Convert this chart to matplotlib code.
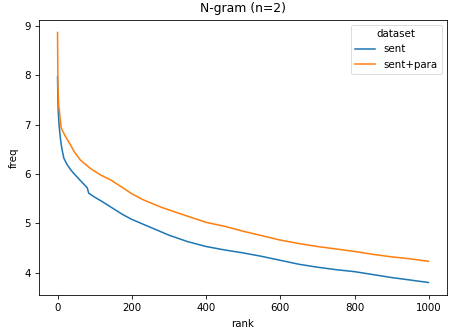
import matplotlib
matplotlib.use("Agg")
import matplotlib.pyplot as plt

ranks_sent = [0, 1, 2, 4, 8, 12, 17, 25, 35, 44, 60, 80, 84, 100, 116, 150, 175, 200,
              250, 300, 350, 400, 450, 500, 550, 600, 650, 700, 750, 800, 850, 900, 950, 999]
freq_sent = [7.97, 7.5, 7.25, 7.0, 6.7, 6.5, 6.32, 6.2, 6.09, 6.01, 5.88, 5.72, 5.61, 5.53, 5.46,
             5.30, 5.18, 5.08, 4.92, 4.76, 4.63, 4.53, 4.46, 4.40, 4.33, 4.25, 4.17, 4.11,
             4.06, 4.02, 3.96, 3.90, 3.85, 3.80]

ranks_para = [0, 1, 3, 10, 20, 35, 45, 62, 89, 116, 143, 170, 200, 230,
              278, 332, 400, 450, 500, 550, 600, 650, 700, 750, 800, 850, 900, 950, 999]
freq_para = [8.87, 7.8, 7.4, 6.93, 6.78, 6.59, 6.45, 6.28, 6.11, 5.98, 5.88, 5.75, 5.60, 5.48,
             5.33, 5.19, 5.02, 4.94, 4.84, 4.75, 4.66, 4.59, 4.53, 4.48,
             4.43, 4.37, 4.32, 4.28, 4.23]

series_names = ["sent", "sent+para"]
colors = ["#1f77b4", "#ff7f0e"]

s = 0.74
fig = plt.figure(figsize=(4.74, 3.29), dpi=100)
ax = fig.add_axes([39/474, 34/329, (447-39)/474, (295-20)/329])
ax.plot(ranks_sent, freq_sent, color=colors[0], lw=1.5*s, label=series_names[0])
ax.plot(ranks_para, freq_para, color=colors[1], lw=1.5*s, label=series_names[1])

ax.set_title("N-gram (n=2)", fontsize=12*s)
ax.set_xlabel("rank", fontsize=10*s)
ax.set_ylabel("freq", fontsize=10*s)
ax.set_xticks([0, 200, 400, 600, 800, 1000])
ax.set_yticks([4, 5, 6, 7, 8, 9])
ax.tick_params(labelsize=10*s, length=3.5*s, width=0.8*s)
for sp in ax.spines.values():
    sp.set_linewidth(0.8*s)
leg = ax.legend(title="dataset", loc="upper right", fontsize=10*s, title_fontsize=10*s)
leg.get_frame().set_linewidth(0.8*s)
fig.savefig("out.png", dpi=100)
